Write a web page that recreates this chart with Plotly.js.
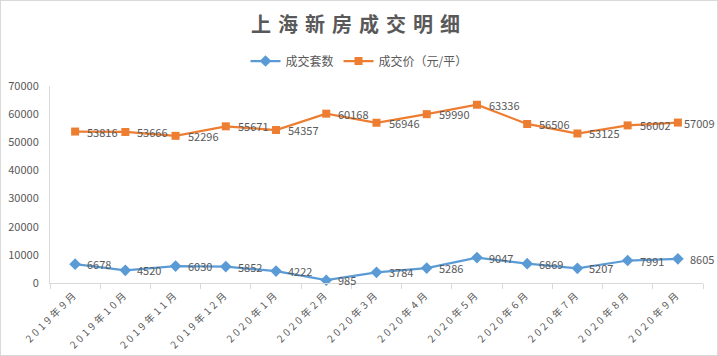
<!DOCTYPE html>
<html>
<head>
<meta charset="utf-8">
<script src="https://cdn.plot.ly/plotly-3.0.1.min.js"></script>
<style>
  html, body { margin: 0; padding: 0; background: #fff; }
  #wrap { position: relative; width: 718px; height: 356px; }
  #chart { width: 718px; height: 356px; }
  #frame { position: absolute; left: 0; top: 0; width: 718px; height: 356px; box-sizing: border-box; border: 1px solid #d9d9d9; pointer-events: none; }
  .xtick text { letter-spacing: 3px; }
  .gtitle { letter-spacing: 7px; }
</style>
</head>
<body>
<div id="wrap"><div id="chart"></div><div id="frame"></div></div>
<script>
const months = ["2019年9月","2019年10月","2019年11月","2019年12月","2020年1月","2020年2月","2020年3月","2020年4月","2020年5月","2020年6月","2020年7月","2020年8月","2020年9月"];
const dealCount = [6678, 4520, 6030, 5852, 4222, 985, 3784, 5286, 9047, 6869, 5207, 7991, 8605];
const dealPrice = [53816, 53666, 52296, 55671, 54357, 60168, 56946, 59990, 63336, 56506, 53125, 56002, 57009];
const countName = "成交套数";
const priceName = "成交价（元/平）";
const chartTitle = "上海新房成交明细";

const font = "'Noto Sans CJK SC', 'Noto Sans', sans-serif";
const gray = "#595959";

const traces = [
  {
    x: months, y: dealCount, name: countName, type: "scatter", mode: "lines+markers",
    line: {color: "#5B9BD5", width: 2.25},
    marker: {symbol: "diamond", size: 9, color: "#5B9BD5"},
    cliponaxis: false, hoverinfo: "x+y"
  },
  {
    x: months, y: dealPrice, name: priceName, type: "scatter", mode: "lines+markers",
    line: {color: "#ED7D31", width: 2.25},
    marker: {symbol: "square", size: 8, color: "#ED7D31"},
    cliponaxis: false, hoverinfo: "x+y"
  }
];

function labels(values, lastShift) {
  return values.map((v, i) => ({
    x: months[i], y: v, xref: "x", yref: "y", text: String(v), showarrow: false,
    xanchor: "left", yanchor: "middle", xshift: i === values.length - 1 ? lastShift : 11, borderpad: 0,
    font: {family: font, size: 11, color: gray}
  }));
}

const layout = {
  width: 718, height: 356,
  margin: {l: 50, r: 15, t: 86, b: 73},
  paper_bgcolor: "#fff", plot_bgcolor: "#fff",
  font: {family: font, color: gray, size: 11},
  title: {text: "<b>" + chartTitle + "</b>", font: {family: font, size: 20, color: gray},
          x: 0.5, xref: "container", xanchor: "center", y: 1 - 25 / 356, yref: "container", yanchor: "middle"},
  showlegend: true,
  legend: {orientation: "h", x: 0.5, xref: "container", xanchor: "center", y: 1 - 61 / 356, yref: "container", yanchor: "middle",
           font: {family: font, size: 12, color: gray}, itemwidth: 30, traceorder: "normal"},
  xaxis: {
    type: "category", range: [-0.5, months.length - 0.5], tickangle: -45, showgrid: false, zeroline: false, automargin: false,
    showline: true, linecolor: "#d9d9d9", linewidth: 1,
    ticks: "outside", tickson: "boundaries", ticklen: 5, tickcolor: "#d9d9d9",
    tickfont: {family: font, size: 10, color: gray}, fixedrange: true
  },
  yaxis: {
    range: [0, 70000], dtick: 10000, tickformat: "d", showgrid: false, zeroline: false, automargin: false,
    showline: true, linecolor: "#d9d9d9", linewidth: 1, ticks: "",
    tickfont: {family: font, size: 11, color: gray}, ticklabelstandoff: 8, fixedrange: true
  },
  annotations: labels(dealCount, 11).concat(labels(dealPrice, 5))
};

Plotly.newPlot("chart", traces, layout, {displayModeBar: false, staticPlot: true});
</script>
</body>
</html>
